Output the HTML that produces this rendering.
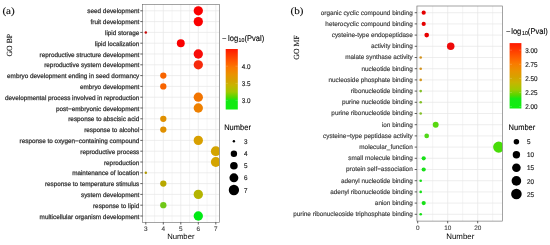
<!DOCTYPE html>
<html><head><meta charset="utf-8"><title>GO enrichment bubble charts</title>
<style>
html,body{margin:0;padding:0;background:#fff;width:550px;height:245px;overflow:hidden}
svg{display:block}
text{text-rendering:geometricPrecision}
.laba{font-family:'Liberation Sans', Arial, sans-serif;font-size:6.37px;fill:#333333;stroke:#333333;stroke-width:0.25px}
.labb{font-family:'Liberation Sans', Arial, sans-serif;font-size:6.37px;fill:#383838;stroke:#383838;stroke-width:0.15px}
.tl{font-family:'Liberation Sans', Arial, sans-serif;font-size:6.4px;fill:#444;stroke:#444;stroke-width:0.12px}
.at{font-family:'Liberation Sans', Arial, sans-serif;font-size:7.7px;fill:#000}
.lt{font-family:'Liberation Sans', Arial, sans-serif;font-size:7.6px;fill:#000;stroke:#000;stroke-width:0.1px}
.lt2{font-family:'Liberation Sans', Arial, sans-serif;font-size:7.5px;fill:#000;stroke:#000;stroke-width:0.1px}
.ll{font-family:'Liberation Sans', Arial, sans-serif;font-size:6.3px;fill:#222;stroke:#222;stroke-width:0.15px}
.tag{font-family:'Liberation Serif', 'Times New Roman', serif;font-size:9.8px;fill:#111;stroke:#111;stroke-width:0.15px}
.yt{font-family:'Liberation Serif', 'Times New Roman', serif;font-size:7.8px;fill:#111;stroke:#111;stroke-width:0.12px}
</style></head><body>
<svg width="550" height="245" viewBox="0 0 550 245">
<defs>
<linearGradient id="ga" x1="0" y1="1" x2="0" y2="0">
<stop offset="0" stop-color="#10ee10"/>
<stop offset="0.15" stop-color="#14e814"/>
<stop offset="0.2" stop-color="#50d800"/>
<stop offset="0.29" stop-color="#a0c800"/>
<stop offset="0.4" stop-color="#c8b400"/>
<stop offset="0.49" stop-color="#d8a000"/>
<stop offset="0.57" stop-color="#e89400"/>
<stop offset="0.69" stop-color="#fa7a00"/>
<stop offset="0.79" stop-color="#ff5a00"/>
<stop offset="0.9" stop-color="#ff3800"/>
<stop offset="1" stop-color="#ff1800"/>
</linearGradient>
<linearGradient id="gb" x1="0" y1="1" x2="0" y2="0">
<stop offset="0" stop-color="#10ee10"/>
<stop offset="0.15" stop-color="#14e814"/>
<stop offset="0.2" stop-color="#50d800"/>
<stop offset="0.29" stop-color="#a0c800"/>
<stop offset="0.4" stop-color="#c8b400"/>
<stop offset="0.49" stop-color="#d8a000"/>
<stop offset="0.57" stop-color="#e89400"/>
<stop offset="0.69" stop-color="#fa7a00"/>
<stop offset="0.79" stop-color="#ff5a00"/>
<stop offset="0.9" stop-color="#ff3800"/>
<stop offset="1" stop-color="#ff1800"/>
</linearGradient>
</defs>
<rect width="550" height="245" fill="#fff"/>
<line x1="154.55" y1="4.3" x2="154.55" y2="222.3" stroke="#e6e6e6" stroke-width="0.4"/>
<line x1="172.05" y1="4.3" x2="172.05" y2="222.3" stroke="#e6e6e6" stroke-width="0.4"/>
<line x1="189.55" y1="4.3" x2="189.55" y2="222.3" stroke="#e6e6e6" stroke-width="0.4"/>
<line x1="207.05" y1="4.3" x2="207.05" y2="222.3" stroke="#e6e6e6" stroke-width="0.4"/>
<line x1="145.8" y1="4.3" x2="145.8" y2="222.3" stroke="#e6e6e6" stroke-width="0.7"/>
<line x1="163.3" y1="4.3" x2="163.3" y2="222.3" stroke="#e6e6e6" stroke-width="0.7"/>
<line x1="180.8" y1="4.3" x2="180.8" y2="222.3" stroke="#e6e6e6" stroke-width="0.7"/>
<line x1="198.3" y1="4.3" x2="198.3" y2="222.3" stroke="#e6e6e6" stroke-width="0.7"/>
<line x1="215.8" y1="4.3" x2="215.8" y2="222.3" stroke="#e6e6e6" stroke-width="0.7"/>
<line x1="142.5" y1="10.8" x2="219.3" y2="10.8" stroke="#e6e6e6" stroke-width="0.7"/>
<line x1="142.5" y1="21.6" x2="219.3" y2="21.6" stroke="#e6e6e6" stroke-width="0.7"/>
<line x1="142.5" y1="32.4" x2="219.3" y2="32.4" stroke="#e6e6e6" stroke-width="0.7"/>
<line x1="142.5" y1="43.2" x2="219.3" y2="43.2" stroke="#e6e6e6" stroke-width="0.7"/>
<line x1="142.5" y1="54" x2="219.3" y2="54" stroke="#e6e6e6" stroke-width="0.7"/>
<line x1="142.5" y1="64.8" x2="219.3" y2="64.8" stroke="#e6e6e6" stroke-width="0.7"/>
<line x1="142.5" y1="75.6" x2="219.3" y2="75.6" stroke="#e6e6e6" stroke-width="0.7"/>
<line x1="142.5" y1="86.4" x2="219.3" y2="86.4" stroke="#e6e6e6" stroke-width="0.7"/>
<line x1="142.5" y1="97.2" x2="219.3" y2="97.2" stroke="#e6e6e6" stroke-width="0.7"/>
<line x1="142.5" y1="108" x2="219.3" y2="108" stroke="#e6e6e6" stroke-width="0.7"/>
<line x1="142.5" y1="118.8" x2="219.3" y2="118.8" stroke="#e6e6e6" stroke-width="0.7"/>
<line x1="142.5" y1="129.6" x2="219.3" y2="129.6" stroke="#e6e6e6" stroke-width="0.7"/>
<line x1="142.5" y1="140.4" x2="219.3" y2="140.4" stroke="#e6e6e6" stroke-width="0.7"/>
<line x1="142.5" y1="151.2" x2="219.3" y2="151.2" stroke="#e6e6e6" stroke-width="0.7"/>
<line x1="142.5" y1="162" x2="219.3" y2="162" stroke="#e6e6e6" stroke-width="0.7"/>
<line x1="142.5" y1="172.8" x2="219.3" y2="172.8" stroke="#e6e6e6" stroke-width="0.7"/>
<line x1="142.5" y1="183.6" x2="219.3" y2="183.6" stroke="#e6e6e6" stroke-width="0.7"/>
<line x1="142.5" y1="194.4" x2="219.3" y2="194.4" stroke="#e6e6e6" stroke-width="0.7"/>
<line x1="142.5" y1="205.2" x2="219.3" y2="205.2" stroke="#e6e6e6" stroke-width="0.7"/>
<line x1="142.5" y1="216" x2="219.3" y2="216" stroke="#e6e6e6" stroke-width="0.7"/>
<clipPath id="ca"><rect x="142.5" y="4.3" width="76.8" height="218"/></clipPath>
<g clip-path="url(#ca)">
<circle cx="198.3" cy="10.8" r="4.65" fill="#fa0000"/>
<circle cx="198.3" cy="21.6" r="4.65" fill="#fa0000"/>
<circle cx="145.8" cy="32.4" r="1.25" fill="#c80808"/>
<circle cx="180.8" cy="43.2" r="3.95" fill="#fa0000"/>
<circle cx="198.3" cy="54" r="4.65" fill="#f80c08"/>
<circle cx="198.3" cy="64.8" r="4.65" fill="#f62a0c"/>
<circle cx="163.3" cy="75.6" r="3.15" fill="#f86400"/>
<circle cx="163.3" cy="86.4" r="3.15" fill="#f86400"/>
<circle cx="198.3" cy="97.2" r="4.65" fill="#f27400"/>
<circle cx="198.3" cy="108" r="4.65" fill="#ee8000"/>
<circle cx="163.3" cy="118.8" r="3.15" fill="#e09000"/>
<circle cx="163.3" cy="129.6" r="3.15" fill="#e09000"/>
<circle cx="198.3" cy="140.4" r="4.65" fill="#d8a000"/>
<circle cx="215.8" cy="151.2" r="4.9" fill="#d4a400"/>
<circle cx="215.8" cy="162" r="4.9" fill="#d4a400"/>
<circle cx="145.8" cy="172.8" r="1.25" fill="#b09800"/>
<circle cx="163.3" cy="183.6" r="3.15" fill="#b8a800"/>
<circle cx="198.3" cy="194.4" r="4.65" fill="#b4b400"/>
<circle cx="163.3" cy="205.2" r="3.15" fill="#70c818"/>
<circle cx="198.3" cy="216" r="4.65" fill="#00ea14"/>
</g>
<rect x="142.5" y="4.3" width="76.8" height="218" fill="none" stroke="#666666" stroke-width="0.6"/>
<line x1="140.3" y1="10.8" x2="142.5" y2="10.8" stroke="#2a2a2a" stroke-width="0.75"/>
<text x="139.3" y="13.48" text-anchor="end" class="laba">seed development</text>
<line x1="140.3" y1="21.6" x2="142.5" y2="21.6" stroke="#2a2a2a" stroke-width="0.75"/>
<text x="139.3" y="24.28" text-anchor="end" class="laba">fruit development</text>
<line x1="140.3" y1="32.4" x2="142.5" y2="32.4" stroke="#2a2a2a" stroke-width="0.75"/>
<text x="139.3" y="35.08" text-anchor="end" class="laba">lipid storage</text>
<line x1="140.3" y1="43.2" x2="142.5" y2="43.2" stroke="#2a2a2a" stroke-width="0.75"/>
<text x="139.3" y="45.88" text-anchor="end" class="laba">lipid localization</text>
<line x1="140.3" y1="54" x2="142.5" y2="54" stroke="#2a2a2a" stroke-width="0.75"/>
<text x="139.3" y="56.68" text-anchor="end" class="laba">reproductive structure development</text>
<line x1="140.3" y1="64.8" x2="142.5" y2="64.8" stroke="#2a2a2a" stroke-width="0.75"/>
<text x="139.3" y="67.48" text-anchor="end" class="laba">reproductive system development</text>
<line x1="140.3" y1="75.6" x2="142.5" y2="75.6" stroke="#2a2a2a" stroke-width="0.75"/>
<text x="139.3" y="78.28" text-anchor="end" class="laba">embryo development ending in seed dormancy</text>
<line x1="140.3" y1="86.4" x2="142.5" y2="86.4" stroke="#2a2a2a" stroke-width="0.75"/>
<text x="139.3" y="89.08" text-anchor="end" class="laba">embryo development</text>
<line x1="140.3" y1="97.2" x2="142.5" y2="97.2" stroke="#2a2a2a" stroke-width="0.75"/>
<text x="139.3" y="99.88" text-anchor="end" class="laba">developmental process involved in reproduction</text>
<line x1="140.3" y1="108" x2="142.5" y2="108" stroke="#2a2a2a" stroke-width="0.75"/>
<text x="139.3" y="110.68" text-anchor="end" class="laba">post−embryonic development</text>
<line x1="140.3" y1="118.8" x2="142.5" y2="118.8" stroke="#2a2a2a" stroke-width="0.75"/>
<text x="139.3" y="121.48" text-anchor="end" class="laba">response to abscisic acid</text>
<line x1="140.3" y1="129.6" x2="142.5" y2="129.6" stroke="#2a2a2a" stroke-width="0.75"/>
<text x="139.3" y="132.28" text-anchor="end" class="laba">response to alcohol</text>
<line x1="140.3" y1="140.4" x2="142.5" y2="140.4" stroke="#2a2a2a" stroke-width="0.75"/>
<text x="139.3" y="143.08" text-anchor="end" class="laba">response to oxygen−containing compound</text>
<line x1="140.3" y1="151.2" x2="142.5" y2="151.2" stroke="#2a2a2a" stroke-width="0.75"/>
<text x="139.3" y="153.88" text-anchor="end" class="laba">reproductive process</text>
<line x1="140.3" y1="162" x2="142.5" y2="162" stroke="#2a2a2a" stroke-width="0.75"/>
<text x="139.3" y="164.68" text-anchor="end" class="laba">reproduction</text>
<line x1="140.3" y1="172.8" x2="142.5" y2="172.8" stroke="#2a2a2a" stroke-width="0.75"/>
<text x="139.3" y="175.48" text-anchor="end" class="laba">maintenance of location</text>
<line x1="140.3" y1="183.6" x2="142.5" y2="183.6" stroke="#2a2a2a" stroke-width="0.75"/>
<text x="139.3" y="186.28" text-anchor="end" class="laba">response to temperature stimulus</text>
<line x1="140.3" y1="194.4" x2="142.5" y2="194.4" stroke="#2a2a2a" stroke-width="0.75"/>
<text x="139.3" y="197.08" text-anchor="end" class="laba">system development</text>
<line x1="140.3" y1="205.2" x2="142.5" y2="205.2" stroke="#2a2a2a" stroke-width="0.75"/>
<text x="139.3" y="207.88" text-anchor="end" class="laba">response to lipid</text>
<line x1="140.3" y1="216" x2="142.5" y2="216" stroke="#2a2a2a" stroke-width="0.75"/>
<text x="139.3" y="218.68" text-anchor="end" class="laba">multicellular organism development</text>
<line x1="145.8" y1="222.3" x2="145.8" y2="224.5" stroke="#2a2a2a" stroke-width="0.75"/>
<text x="145.8" y="230.9" text-anchor="middle" class="tl">3</text>
<line x1="163.3" y1="222.3" x2="163.3" y2="224.5" stroke="#2a2a2a" stroke-width="0.75"/>
<text x="163.3" y="230.9" text-anchor="middle" class="tl">4</text>
<line x1="180.8" y1="222.3" x2="180.8" y2="224.5" stroke="#2a2a2a" stroke-width="0.75"/>
<text x="180.8" y="230.9" text-anchor="middle" class="tl">5</text>
<line x1="198.3" y1="222.3" x2="198.3" y2="224.5" stroke="#2a2a2a" stroke-width="0.75"/>
<text x="198.3" y="230.9" text-anchor="middle" class="tl">6</text>
<line x1="215.8" y1="222.3" x2="215.8" y2="224.5" stroke="#2a2a2a" stroke-width="0.75"/>
<text x="215.8" y="230.9" text-anchor="middle" class="tl">7</text>
<line x1="432.7" y1="6" x2="432.7" y2="221.1" stroke="#e6e6e6" stroke-width="0.4"/>
<line x1="462.7" y1="6" x2="462.7" y2="221.1" stroke="#e6e6e6" stroke-width="0.4"/>
<line x1="492.7" y1="6" x2="492.7" y2="221.1" stroke="#e6e6e6" stroke-width="0.4"/>
<line x1="417.7" y1="6" x2="417.7" y2="221.1" stroke="#e6e6e6" stroke-width="0.7"/>
<line x1="447.7" y1="6" x2="447.7" y2="221.1" stroke="#e6e6e6" stroke-width="0.7"/>
<line x1="477.7" y1="6" x2="477.7" y2="221.1" stroke="#e6e6e6" stroke-width="0.7"/>
<line x1="416.9" y1="12.7" x2="502.3" y2="12.7" stroke="#e6e6e6" stroke-width="0.7"/>
<line x1="416.9" y1="23.9" x2="502.3" y2="23.9" stroke="#e6e6e6" stroke-width="0.7"/>
<line x1="416.9" y1="35.1" x2="502.3" y2="35.1" stroke="#e6e6e6" stroke-width="0.7"/>
<line x1="416.9" y1="46.3" x2="502.3" y2="46.3" stroke="#e6e6e6" stroke-width="0.7"/>
<line x1="416.9" y1="57.5" x2="502.3" y2="57.5" stroke="#e6e6e6" stroke-width="0.7"/>
<line x1="416.9" y1="68.7" x2="502.3" y2="68.7" stroke="#e6e6e6" stroke-width="0.7"/>
<line x1="416.9" y1="79.9" x2="502.3" y2="79.9" stroke="#e6e6e6" stroke-width="0.7"/>
<line x1="416.9" y1="91.1" x2="502.3" y2="91.1" stroke="#e6e6e6" stroke-width="0.7"/>
<line x1="416.9" y1="102.3" x2="502.3" y2="102.3" stroke="#e6e6e6" stroke-width="0.7"/>
<line x1="416.9" y1="113.5" x2="502.3" y2="113.5" stroke="#e6e6e6" stroke-width="0.7"/>
<line x1="416.9" y1="124.7" x2="502.3" y2="124.7" stroke="#e6e6e6" stroke-width="0.7"/>
<line x1="416.9" y1="135.9" x2="502.3" y2="135.9" stroke="#e6e6e6" stroke-width="0.7"/>
<line x1="416.9" y1="147.1" x2="502.3" y2="147.1" stroke="#e6e6e6" stroke-width="0.7"/>
<line x1="416.9" y1="158.3" x2="502.3" y2="158.3" stroke="#e6e6e6" stroke-width="0.7"/>
<line x1="416.9" y1="169.5" x2="502.3" y2="169.5" stroke="#e6e6e6" stroke-width="0.7"/>
<line x1="416.9" y1="180.7" x2="502.3" y2="180.7" stroke="#e6e6e6" stroke-width="0.7"/>
<line x1="416.9" y1="191.9" x2="502.3" y2="191.9" stroke="#e6e6e6" stroke-width="0.7"/>
<line x1="416.9" y1="203.1" x2="502.3" y2="203.1" stroke="#e6e6e6" stroke-width="0.7"/>
<line x1="416.9" y1="214.3" x2="502.3" y2="214.3" stroke="#e6e6e6" stroke-width="0.7"/>
<clipPath id="cb"><rect x="416.9" y="6" width="85.4" height="215.1"/></clipPath>
<g clip-path="url(#cb)">
<circle cx="423.7" cy="12.7" r="2.1" fill="#e40000"/>
<circle cx="423.7" cy="23.9" r="2.1" fill="#e40000"/>
<circle cx="426.7" cy="35.1" r="2.35" fill="#e80000"/>
<circle cx="450.7" cy="46.3" r="3.75" fill="#ee0a0a"/>
<circle cx="420.7" cy="57.5" r="1.3" fill="#d49420"/>
<circle cx="420.7" cy="68.7" r="1.3" fill="#d49420"/>
<circle cx="420.7" cy="79.9" r="1.3" fill="#d49820"/>
<circle cx="420.7" cy="91.1" r="1.3" fill="#84c028"/>
<circle cx="420.7" cy="102.3" r="1.3" fill="#84c028"/>
<circle cx="420.7" cy="113.5" r="1.3" fill="#84c028"/>
<circle cx="435.7" cy="124.7" r="2.95" fill="#58d810"/>
<circle cx="426.7" cy="135.9" r="2.35" fill="#50d818"/>
<circle cx="498.7" cy="147.1" r="5.6" fill="#48dc08"/>
<circle cx="423.7" cy="158.3" r="2.1" fill="#18e018"/>
<circle cx="423.7" cy="169.5" r="2.1" fill="#18e018"/>
<circle cx="420.7" cy="180.7" r="1.3" fill="#18e018"/>
<circle cx="420.7" cy="191.9" r="1.3" fill="#18e018"/>
<circle cx="423.7" cy="203.1" r="2.1" fill="#18e018"/>
<circle cx="420.7" cy="214.3" r="1.3" fill="#18e018"/>
</g>
<rect x="416.9" y="6" width="85.4" height="215.1" fill="none" stroke="#666666" stroke-width="0.6"/>
<line x1="414.7" y1="12.7" x2="416.9" y2="12.7" stroke="#2a2a2a" stroke-width="0.75"/>
<text x="412.7" y="14.61" text-anchor="end" class="labb">organic cyclic compound binding</text>
<line x1="414.7" y1="23.9" x2="416.9" y2="23.9" stroke="#2a2a2a" stroke-width="0.75"/>
<text x="412.7" y="25.81" text-anchor="end" class="labb">heterocyclic compound binding</text>
<line x1="414.7" y1="35.1" x2="416.9" y2="35.1" stroke="#2a2a2a" stroke-width="0.75"/>
<text x="412.7" y="37.01" text-anchor="end" class="labb">cysteine-type endopeptidase</text>
<line x1="414.7" y1="46.3" x2="416.9" y2="46.3" stroke="#2a2a2a" stroke-width="0.75"/>
<text x="412.7" y="48.21" text-anchor="end" class="labb">activity binding</text>
<line x1="414.7" y1="57.5" x2="416.9" y2="57.5" stroke="#2a2a2a" stroke-width="0.75"/>
<text x="412.7" y="59.41" text-anchor="end" class="labb">malate synthase activity</text>
<line x1="414.7" y1="68.7" x2="416.9" y2="68.7" stroke="#2a2a2a" stroke-width="0.75"/>
<text x="412.7" y="70.61" text-anchor="end" class="labb">nucleotide binding</text>
<line x1="414.7" y1="79.9" x2="416.9" y2="79.9" stroke="#2a2a2a" stroke-width="0.75"/>
<text x="412.7" y="81.81" text-anchor="end" class="labb">nucleoside phosphate binding</text>
<line x1="414.7" y1="91.1" x2="416.9" y2="91.1" stroke="#2a2a2a" stroke-width="0.75"/>
<text x="412.7" y="93.01" text-anchor="end" class="labb">ribonucleotide binding</text>
<line x1="414.7" y1="102.3" x2="416.9" y2="102.3" stroke="#2a2a2a" stroke-width="0.75"/>
<text x="412.7" y="104.21" text-anchor="end" class="labb">purine nucleotide binding</text>
<line x1="414.7" y1="113.5" x2="416.9" y2="113.5" stroke="#2a2a2a" stroke-width="0.75"/>
<text x="412.7" y="115.41" text-anchor="end" class="labb">purine ribonucleotide binding</text>
<line x1="414.7" y1="124.7" x2="416.9" y2="124.7" stroke="#2a2a2a" stroke-width="0.75"/>
<text x="412.7" y="126.61" text-anchor="end" class="labb">ion binding</text>
<line x1="414.7" y1="135.9" x2="416.9" y2="135.9" stroke="#2a2a2a" stroke-width="0.75"/>
<text x="412.7" y="137.81" text-anchor="end" class="labb">cysteine−type peptidase activity</text>
<line x1="414.7" y1="147.1" x2="416.9" y2="147.1" stroke="#2a2a2a" stroke-width="0.75"/>
<text x="412.7" y="149.01" text-anchor="end" class="labb">molecular_function</text>
<line x1="414.7" y1="158.3" x2="416.9" y2="158.3" stroke="#2a2a2a" stroke-width="0.75"/>
<text x="412.7" y="160.21" text-anchor="end" class="labb">small molecule binding</text>
<line x1="414.7" y1="169.5" x2="416.9" y2="169.5" stroke="#2a2a2a" stroke-width="0.75"/>
<text x="412.7" y="171.41" text-anchor="end" class="labb">protein self−association</text>
<line x1="414.7" y1="180.7" x2="416.9" y2="180.7" stroke="#2a2a2a" stroke-width="0.75"/>
<text x="412.7" y="182.61" text-anchor="end" class="labb">adenyl nucleotide binding</text>
<line x1="414.7" y1="191.9" x2="416.9" y2="191.9" stroke="#2a2a2a" stroke-width="0.75"/>
<text x="412.7" y="193.81" text-anchor="end" class="labb">adenyl ribonucleotide binding</text>
<line x1="414.7" y1="203.1" x2="416.9" y2="203.1" stroke="#2a2a2a" stroke-width="0.75"/>
<text x="412.7" y="205.01" text-anchor="end" class="labb">anion binding</text>
<line x1="414.7" y1="214.3" x2="416.9" y2="214.3" stroke="#2a2a2a" stroke-width="0.75"/>
<text x="412.7" y="216.21" text-anchor="end" class="labb">purine ribonucleoside triphosphate binding</text>
<line x1="417.7" y1="221.1" x2="417.7" y2="223.3" stroke="#2a2a2a" stroke-width="0.75"/>
<text x="417.7" y="229.7" text-anchor="middle" class="tl">0</text>
<line x1="447.7" y1="221.1" x2="447.7" y2="223.3" stroke="#2a2a2a" stroke-width="0.75"/>
<text x="447.7" y="229.7" text-anchor="middle" class="tl">10</text>
<line x1="477.7" y1="221.1" x2="477.7" y2="223.3" stroke="#2a2a2a" stroke-width="0.75"/>
<text x="477.7" y="229.7" text-anchor="middle" class="tl">20</text>
<text x="180.8" y="239.2" text-anchor="middle" class="at">Number</text>
<text x="460.3" y="238.7" text-anchor="middle" class="at" style="font-size:7.9px">Number</text>
<text transform="translate(2.4,13.8) scale(1.13,1)" class="tag">(a)</text>
<text transform="translate(290.6,13.8) scale(1.13,1)" class="tag">(b)</text>
<text transform="translate(11.9,45.2) rotate(-90)" text-anchor="middle" class="yt">GO BP</text>
<text transform="translate(299.2,47.5) rotate(-90)" text-anchor="middle" class="yt">GO MF</text>
<text transform="translate(222,40.6) scale(1,1.08)" class="lt"><tspan x="0">−</tspan><tspan x="6">log</tspan><tspan x="16.6" dy="1.0" style="font-size:5.2px">10</tspan><tspan dy="-1.0">(Pval)</tspan></text>
<rect x="225.7" y="49" width="12.1" height="60.5" fill="url(#ga)"/>
<line x1="225.7" y1="66.2" x2="228.1" y2="66.2" stroke="#fff" stroke-opacity="0.35" stroke-width="0.5"/>
<line x1="235.4" y1="66.2" x2="237.8" y2="66.2" stroke="#fff" stroke-opacity="0.35" stroke-width="0.5"/>
<text transform="translate(241.8,68.8) scale(1,1.08)" class="ll">4.0</text>
<line x1="225.7" y1="83.4" x2="228.1" y2="83.4" stroke="#fff" stroke-opacity="0.35" stroke-width="0.5"/>
<line x1="235.4" y1="83.4" x2="237.8" y2="83.4" stroke="#fff" stroke-opacity="0.35" stroke-width="0.5"/>
<text transform="translate(241.8,86) scale(1,1.08)" class="ll">3.5</text>
<line x1="225.7" y1="100.4" x2="228.1" y2="100.4" stroke="#fff" stroke-opacity="0.35" stroke-width="0.5"/>
<line x1="235.4" y1="100.4" x2="237.8" y2="100.4" stroke="#fff" stroke-opacity="0.35" stroke-width="0.5"/>
<text transform="translate(241.8,103) scale(1,1.08)" class="ll">3.0</text>
<text transform="translate(505.9,34.1) scale(1,1.08)" class="lt"><tspan x="0">−</tspan><tspan x="5.3">log</tspan><tspan x="16.2" dy="1.0" style="font-size:5.2px">10</tspan><tspan dy="-1.0">(Pval)</tspan></text>
<rect x="509.6" y="43.1" width="11.8" height="65.4" fill="url(#gb)"/>
<line x1="509.6" y1="50.2" x2="512" y2="50.2" stroke="#fff" stroke-opacity="0.35" stroke-width="0.5"/>
<line x1="519" y1="50.2" x2="521.4" y2="50.2" stroke="#fff" stroke-opacity="0.35" stroke-width="0.5"/>
<text transform="translate(525.2,52.8) scale(1,1.08)" class="ll">3.00</text>
<line x1="509.6" y1="64.3" x2="512" y2="64.3" stroke="#fff" stroke-opacity="0.35" stroke-width="0.5"/>
<line x1="519" y1="64.3" x2="521.4" y2="64.3" stroke="#fff" stroke-opacity="0.35" stroke-width="0.5"/>
<text transform="translate(525.2,66.9) scale(1,1.08)" class="ll">2.75</text>
<line x1="509.6" y1="78.4" x2="512" y2="78.4" stroke="#fff" stroke-opacity="0.35" stroke-width="0.5"/>
<line x1="519" y1="78.4" x2="521.4" y2="78.4" stroke="#fff" stroke-opacity="0.35" stroke-width="0.5"/>
<text transform="translate(525.2,81) scale(1,1.08)" class="ll">2.50</text>
<line x1="509.6" y1="92.5" x2="512" y2="92.5" stroke="#fff" stroke-opacity="0.35" stroke-width="0.5"/>
<line x1="519" y1="92.5" x2="521.4" y2="92.5" stroke="#fff" stroke-opacity="0.35" stroke-width="0.5"/>
<text transform="translate(525.2,95.1) scale(1,1.08)" class="ll">2.25</text>
<line x1="509.6" y1="106.5" x2="512" y2="106.5" stroke="#fff" stroke-opacity="0.35" stroke-width="0.5"/>
<line x1="519" y1="106.5" x2="521.4" y2="106.5" stroke="#fff" stroke-opacity="0.35" stroke-width="0.5"/>
<text transform="translate(525.2,109.1) scale(1,1.08)" class="ll">2.00</text>
<text transform="translate(224.2,129.7) scale(1,1.08)" class="lt2">Number</text>
<circle cx="233.9" cy="141.3" r="1.2" fill="#000"/>
<text transform="translate(244,143.9) scale(1,1.08)" class="ll">3</text>
<circle cx="233.9" cy="153.7" r="3.2" fill="#000"/>
<text transform="translate(244,156.3) scale(1,1.08)" class="ll">4</text>
<circle cx="233.9" cy="165.7" r="3.8" fill="#000"/>
<text transform="translate(244,168.3) scale(1,1.08)" class="ll">5</text>
<circle cx="233.9" cy="177.8" r="4.45" fill="#000"/>
<text transform="translate(244,180.4) scale(1,1.08)" class="ll">6</text>
<circle cx="233.9" cy="190" r="5.15" fill="#000"/>
<text transform="translate(244,192.6) scale(1,1.08)" class="ll">7</text>
<text transform="translate(508.6,129.6) scale(1,1.08)" class="lt2">Number</text>
<circle cx="516.4" cy="141.8" r="2.75" fill="#000"/>
<text transform="translate(527,144.4) scale(1,1.08)" class="ll">5</text>
<circle cx="516.4" cy="154.8" r="3.7" fill="#000"/>
<text transform="translate(527,157.4) scale(1,1.08)" class="ll">10</text>
<circle cx="516.4" cy="167.8" r="4.3" fill="#000"/>
<text transform="translate(527,170.4) scale(1,1.08)" class="ll">15</text>
<circle cx="516.4" cy="180.9" r="4.8" fill="#000"/>
<text transform="translate(527,183.5) scale(1,1.08)" class="ll">20</text>
<circle cx="516.4" cy="194" r="5.3" fill="#000"/>
<text transform="translate(527,196.6) scale(1,1.08)" class="ll">25</text>
</svg>
</body></html>
